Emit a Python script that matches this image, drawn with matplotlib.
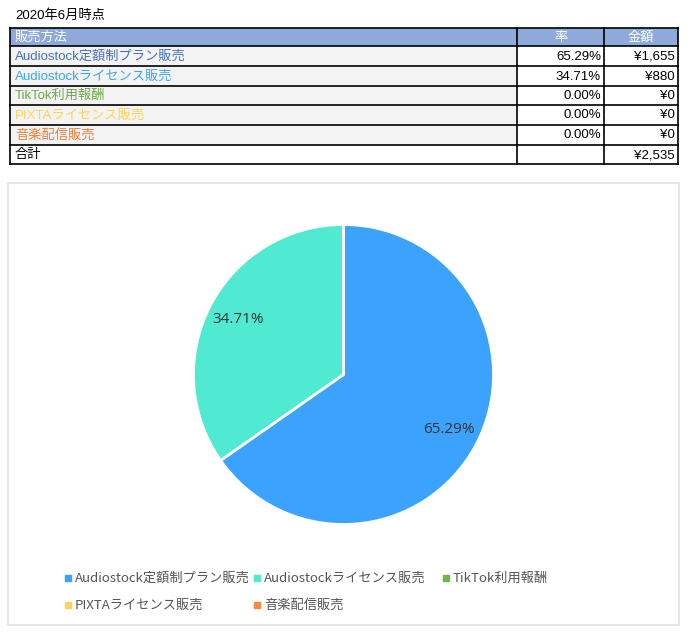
import matplotlib
matplotlib.use("Agg")
import matplotlib.pyplot as plt
from matplotlib.patches import Rectangle

plt.rcParams['font.family'] = ['Liberation Sans', 'Noto Sans CJK JP', 'DejaVu Sans']

# ---- data ----
title = "2020年6月時点"
header = ["販売方法", "率", "金額"]
methods = ["Audiostock定額制プラン販売", "Audiostockライセンス販売", "TikTok利用報酬",
           "PIXTAライセンス販売", "音楽配信販売"]
rates = [65.29, 34.71, 0.00, 0.00, 0.00]
amounts = [1655, 880, 0, 0, 0]
total_label = "合計"
total_amount = 2535

text_colors = ["#4472c4", "#3aa8ee", "#6aab45", "#fcd45a", "#f07f3a"]
pie_colors = ["#3ba3fe", "#50e9d1", "#71b747", "#fbd659", "#f08a45"]

W, H = 688, 632
fig = plt.figure(figsize=(W / 100, H / 100), dpi=100)
ax0 = fig.add_axes([0, 0, 1, 1])
ax0.set_xlim(0, W)
ax0.set_ylim(H, 0)
ax0.axis('off')

# title
ax0.text(15, 16, title, fontsize=9.5, va='center', ha='left', color='#000000')

# ---- table ----
col_x = [10, 517, 604, 678]
row_y = [28, 46, 66, 86, 105, 125, 145, 164]

ax0.add_patch(Rectangle((col_x[0], row_y[0]), col_x[3] - col_x[0], row_y[1] - row_y[0],
                        facecolor='#8eaadb', edgecolor='none', zorder=1))
for i in range(len(methods)):
    ax0.add_patch(Rectangle((col_x[0], row_y[i + 1]), col_x[1] - col_x[0],
                            row_y[i + 2] - row_y[i + 1], facecolor='#f3f3f3',
                            edgecolor='none', zorder=1))
for y in row_y:
    ax0.plot([col_x[0], col_x[3]], [y, y], color='black', lw=1.2, zorder=3)
for x in col_x:
    ax0.plot([x, x], [row_y[0], row_y[-1]], color='black', lw=1.2, zorder=3)

def cy(i):
    return (row_y[i] + row_y[i + 1]) / 2 + 0.5

fs = 9.5
ax0.text(col_x[0] + 5, cy(0), header[0], color='white', fontsize=fs, va='center', zorder=4)
ax0.text((col_x[1] + col_x[2]) / 2, cy(0), header[1], color='white', fontsize=fs,
         va='center', ha='center', zorder=4)
ax0.text((col_x[2] + col_x[3]) / 2, cy(0), header[2], color='white', fontsize=fs,
         va='center', ha='center', zorder=4)

for i, (m, r, a, c) in enumerate(zip(methods, rates, amounts, text_colors)):
    ax0.text(col_x[0] + 5, cy(i + 1), m, color=c, fontsize=fs, va='center', zorder=4)
    ax0.text(col_x[2] - 3, cy(i + 1), f"{r:.2f}%", color='black', fontsize=fs,
             va='center', ha='right', zorder=4)
    ax0.text(col_x[3] - 3, cy(i + 1), f"¥{a:,}", color='black', fontsize=fs,
             va='center', ha='right', zorder=4)

n = len(methods) + 1
ax0.text(col_x[0] + 5, cy(n), total_label, color='black', fontsize=fs, va='center', zorder=4)
ax0.text(col_x[3] - 3, cy(n), f"¥{total_amount:,}", color='black', fontsize=fs,
         va='center', ha='right', zorder=4)

# ---- chart box ----
ax0.add_patch(Rectangle((8, 183), 679 - 8, 625 - 183, facecolor='white',
                        edgecolor='#e2e2e2', lw=1.2, zorder=0))

# ---- pie ----
cx, cyp, R = 343.5, 374.5, 150
pax = fig.add_axes([(cx - R) / W, (H - cyp - R) / H, 2 * R / W, 2 * R / H])
vals = [v for v in rates if v > 0]
cols = [pie_colors[i] for i, v in enumerate(rates) if v > 0]
wedges, texts, autotexts = pax.pie(
    vals, colors=cols, startangle=90, counterclock=False, radius=1,
    autopct=lambda p: f"{p:.2f}%", pctdistance=0.79,
    wedgeprops=dict(edgecolor='white', linewidth=2),
    textprops=dict(fontsize=11, color='#333333', family=['Open Sans', 'DejaVu Sans']))
for w in wedges:
    w.set_clip_on(False)
pax.set_xlim(-1.0, 1.0)
pax.set_ylim(-1.0, 1.0)
pax.set_aspect('equal')

# ---- legend ----
leg_cols_x = [68, 257, 446]
leg_rows_y = [578, 605]
for i, (m, c) in enumerate(zip(methods, pie_colors)):
    r_, k = divmod(i, 3)
    x = leg_cols_x[k]
    y = leg_rows_y[r_]
    ax0.scatter([x], [y], marker='s', s=22, color=c, zorder=5)
    ax0.text(x + 7, y, m, fontsize=9.5, color='#555555', va='center', ha='left',
             family=['Noto Sans CJK JP', 'DejaVu Sans'], zorder=5)

fig.savefig("out.png", dpi=100)
